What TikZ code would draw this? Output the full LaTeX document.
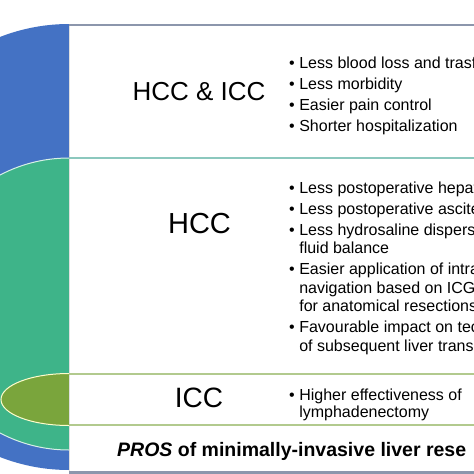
\documentclass[tikz,border=0pt]{standalone}
\usepackage{fontspec}
\setmainfont{Liberation Sans}
\usetikzlibrary{positioning}

\definecolor{hccblue}{RGB}{68,114,196}
\definecolor{hccgreen}{RGB}{62,180,137}
\definecolor{iccolive}{RGB}{122,165,60}
\definecolor{frameline}{RGB}{140,150,172}
\definecolor{tealline}{RGB}{140,200,190}
\definecolor{oliveline}{RGB}{178,202,142}

\newcommand{\bul}{\textbullet}

\begin{document}
\begin{tikzpicture}[x=1pt, y=-1pt,
  grouplabel/.style={inner sep=0pt, anchor=base},
  bullets/.style={inner sep=0pt, anchor=base west, font=\fontsize{16}{18.5}\selectfont},
  sepline/.style={line width=1.2pt}]

\useasboundingbox (0,0) rectangle (474,474);
\clip (0,0) rectangle (474,474);

% nested half ellipses on the left
\fill[hccblue] (69,247) ellipse [x radius=205, y radius=223];
\filldraw[hccgreen, draw=white!80!hccgreen, line width=1pt] (69,304) ellipse [x radius=147, y radius=146];
\filldraw[iccolive, draw=yellow!20!white, line width=1pt] (69,399.5) ellipse [x radius=68, y radius=26];

% white panel
\fill[white] (69,25) rectangle (480,472);
\draw[gray!25, line width=0.6pt] (69,25) -- (69,472);

\draw[sepline, frameline] (69,25) -- (480,25);
\draw[sepline, tealline] (69,158) -- (480,158);
\draw[sepline, oliveline] (69,374) -- (480,374);
\draw[sepline, oliveline] (69,425) -- (480,425);
\draw[frameline, line width=2.5pt] (69,472.5) -- (480,472.5);

% group labels
\node[grouplabel, font=\fontsize{26}{30}\selectfont] (both) at (199,100) {HCC \& ICC};
\node[grouplabel, font=\fontsize{29}{33}\selectfont] (hcc) at (199.5,233) {HCC};
\node[grouplabel, font=\fontsize{28}{32}\selectfont] (icc) at (199,407) {ICC};

% advantages
\node[bullets] (bothpros) at (289,68) {\begin{tabular}[t]{@{}l@{\hspace{4.5pt}}l@{}}
  \bul & Less blood loss and trasf\\[2.8pt]
  \bul & Less morbidity\\[2.8pt]
  \bul & Easier pain control\\[2.8pt]
  \bul & Shorter hospitalization
\end{tabular}};

\node[bullets] (hccpros) at (289,193) {\begin{tabular}[t]{@{}l@{\hspace{4.5pt}}l@{}}
  \bul & Less postoperative hepat\\[2.5pt]
  \bul & Less postoperative ascite\\[2.5pt]
  \bul & Less hydrosaline dispers\\
       & fluid balance\\[2.5pt]
  \bul & Easier application of intra\\
       & navigation based on ICG\\
       & for anatomical resections\\[2.5pt]
  \bul & Favourable impact on tec\\
       & of subsequent liver trans
\end{tabular}};

\node[bullets, font=\fontsize{16}{17}\selectfont] (iccpros) at (289,400.5) {\begin{tabular}[t]{@{}l@{\hspace{4.5pt}}l@{}}
  \bul & Higher effectiveness of\\
       & lymphadenectomy
\end{tabular}};

\node[inner sep=0pt, anchor=base west, font=\fontsize{19.5}{22}\selectfont\bfseries] (pros) at (117,456)
  {\textit{PROS} of minimally-invasive liver rese};
\end{tikzpicture}
\end{document}
